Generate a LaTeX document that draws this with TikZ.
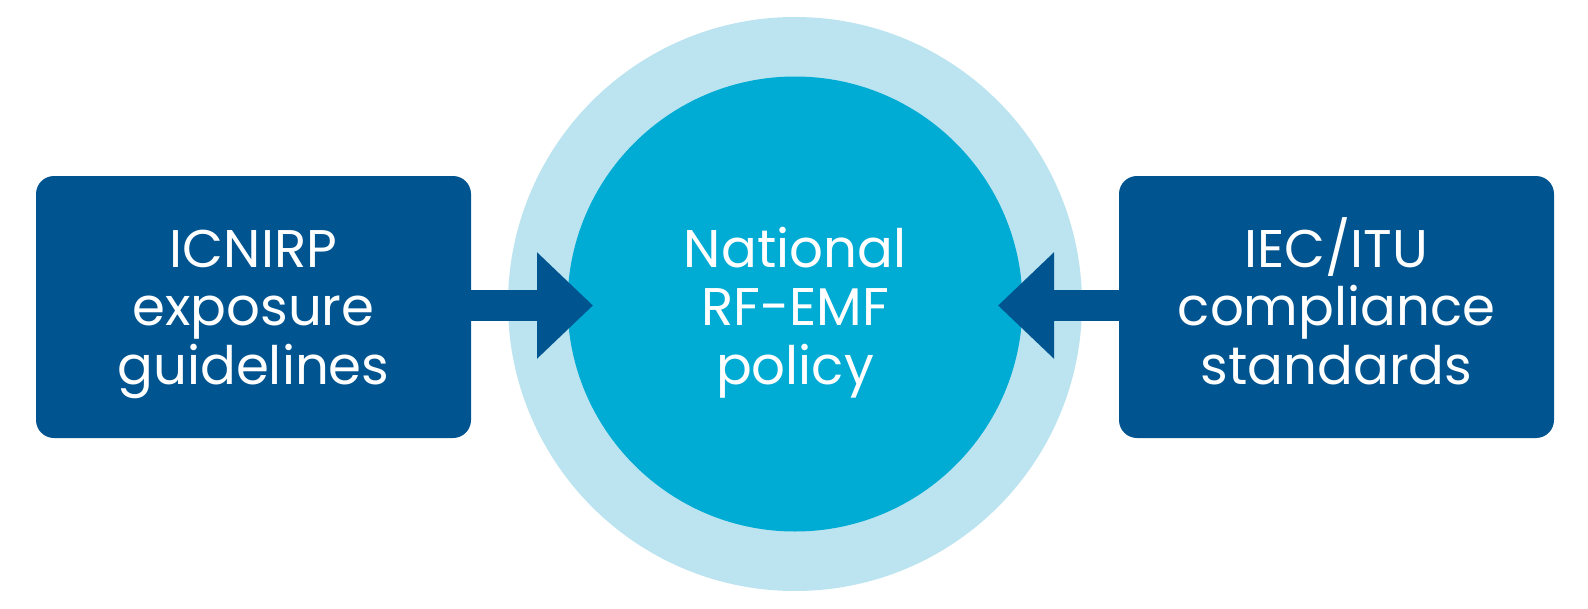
\documentclass[tikz,border=0pt]{standalone}
\usepackage{fontspec}
\setmainfont{Poppins}
\usetikzlibrary{arrows.meta}
\definecolor{boxblue}{RGB}{0,84,144}
\definecolor{paleblue}{RGB}{187,228,240}
\definecolor{midblue}{RGB}{0,171,212}
\newcommand\topstrut[1]{\rule{0pt}{#1}}
\newcommand\botstrut{\rule[-25pt]{0pt}{25pt}}
\tikzset{
  labeltext/.style={text=white, align=center, font=\fontsize{53}{58.5}\selectfont},
  bigbox/.style={fill=boxblue, rounded corners=18pt, minimum width=435pt, minimum height=262pt, inner sep=0pt, labeltext},
  fatarrow/.style={draw=boxblue, line width=31pt, -{Triangle[length=56pt,width=103pt]}},
}
\begin{document}
\begin{tikzpicture}[x=1pt,y=-1pt]
\useasboundingbox (0,0) rectangle (1588,608);
\node[circle, fill=paleblue, minimum size=574pt, inner sep=0pt] (outer) at (795,304) {};
\node[circle, fill=midblue, minimum size=455pt, inner sep=0pt, labeltext] (inner) at (795,304)
  {\topstrut{68pt}National\\RF-EMF\\policy\botstrut};
\node[bigbox] (left) at (253.5,307) {\topstrut{62pt}ICNIRP\\exposure\\guidelines\botstrut};
\node[bigbox] (right) at (1336.5,307) {\topstrut{62pt}IEC/ITU\\compliance\\standards\botstrut};
\coordinate (ltip) at (593,305.5);
\coordinate (rtip) at (998,305.5);
\draw[fatarrow] (left.east |- ltip) -- (ltip);
\draw[fatarrow] (right.west |- rtip) -- (rtip);
\end{tikzpicture}
\end{document}
